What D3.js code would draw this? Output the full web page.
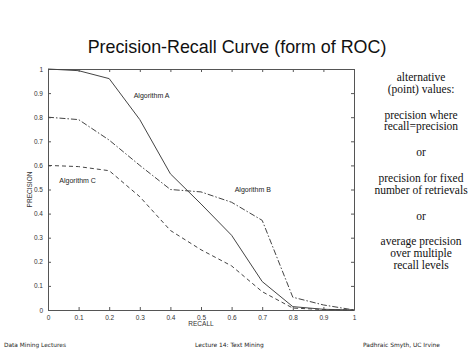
<!DOCTYPE html>
<html><head><meta charset="utf-8">
<script src="https://cdn.jsdelivr.net/npm/d3@7"></script>
<style>body{margin:0;background:#fff}svg{display:block}</style>
</head><body>
<script>
const recall = [0, 0.1, 0.2, 0.3, 0.4, 0.5, 0.6, 0.7, 0.8, 0.9, 1.0];
const algA = [1.0, 0.993, 0.96, 0.79, 0.565, 0.44, 0.31, 0.118, 0.014, 0.003, 0];
const algB = [0.8, 0.79, 0.705, 0.60, 0.50, 0.49, 0.447, 0.372, 0.053, 0.021, 0];
const algC = [0.6, 0.595, 0.578, 0.47, 0.33, 0.25, 0.183, 0.076, 0.008, 0.002, 0];
const xTicks = [0, 0.1, 0.2, 0.3, 0.4, 0.5, 0.6, 0.7, 0.8, 0.9, 1];
const yTicks = [0, 0.1, 0.2, 0.3, 0.4, 0.5, 0.6, 0.7, 0.8, 0.9, 1];
const sideParagraphs = [
  ["alternative", "(point) values:"],
  ["precision where", "recall=precision"],
  ["or"],
  ["precision for fixed", "number of retrievals"],
  ["or"],
  ["average precision", "over multiple", "recall levels"]
];
const footer = ["Data Mining Lectures", "Lecture 14: Text Mining", "Padhraic Smyth, UC Irvine"];

const W = 474, H = 355;
const svg = d3.select("body").append("svg").attr("width", W).attr("height", H);
const x = d3.scaleLinear().domain([0, 1]).range([48, 354]);
const y = d3.scaleLinear().domain([0, 1]).range([310, 69]);
const axisColor = "#555";
const tickFont = "Liberation Sans, Arial, sans-serif";

function fit(sel, width) {
  const n = sel.node();
  const fs = +sel.attr("font-size");
  const w = n.getComputedTextLength();
  if (w > 0) sel.attr("font-size", fs * width / w);
}

const title = svg.append("text").attr("x", 237).attr("y", 52.5).attr("text-anchor", "middle")
  .attr("font-family", "Liberation Sans, Arial, sans-serif").attr("font-size", 18)
  .attr("fill", "#111").text("Precision-Recall Curve (form of ROC)");
fit(title, 299);

function styleAxis(g, labels) {
  g.select(".domain").attr("stroke", axisColor);
  g.selectAll(".tick line").attr("stroke", axisColor);
  g.selectAll(".tick text").attr("fill", "#333").attr("font-family", tickFont).attr("font-size", 6.5);
  if (!labels) g.selectAll(".tick text").remove();
}
const fmt = d => d === 0 ? "0" : d === 1 ? "1" : d3.format(".1f")(d);
svg.append("g").attr("transform", `translate(0,${y(0)})`)
  .call(d3.axisBottom(x).tickValues(xTicks).tickFormat(fmt).tickSizeInner(-3).tickSizeOuter(0).tickPadding(5))
  .call(g => styleAxis(g, true));
svg.append("g").attr("transform", `translate(0,${y(1)})`)
  .call(d3.axisTop(x).tickValues(xTicks).tickSizeInner(-3).tickSizeOuter(0))
  .call(g => styleAxis(g, false));
svg.append("g").attr("transform", `translate(${x(0)},0)`)
  .call(d3.axisLeft(y).tickValues(yTicks).tickFormat(fmt).tickSizeInner(-3).tickSizeOuter(0).tickPadding(5))
  .call(g => styleAxis(g, true));
svg.append("g").attr("transform", `translate(${x(1)},0)`)
  .call(d3.axisRight(y).tickValues(yTicks).tickSizeInner(-3).tickSizeOuter(0))
  .call(g => styleAxis(g, false));

svg.append("text").attr("x", x(0.5)).attr("y", 326).attr("text-anchor", "middle")
  .attr("font-family", tickFont).attr("font-size", 6.5).attr("fill", "#333").text("RECALL");
svg.append("text").attr("transform", `translate(32,${y(0.5)}) rotate(-90)`).attr("text-anchor", "middle")
  .attr("font-family", tickFont).attr("font-size", 6.5).attr("fill", "#333").text("PRECISION");

const line = d3.line().x((d, i) => x(recall[i])).y(d => y(d));
const series = [
  {v: algA, dash: null, label: "Algorithm A", lx: 0.28, ly: 0.88},
  {v: algB, dash: "6,2,1.5,2", label: "Algorithm B", lx: 0.61, ly: 0.49},
  {v: algC, dash: "4,3", label: "Algorithm C", lx: 0.037, ly: 0.527}
];
series.forEach(s => {
  svg.append("path").attr("d", line(s.v)).attr("fill", "none").attr("stroke", "#444")
    .attr("stroke-width", 1).attr("stroke-dasharray", s.dash);
  svg.append("text").attr("x", x(s.lx)).attr("y", y(s.ly)).attr("font-family", tickFont)
    .attr("font-size", 7).attr("fill", "#222").text(s.label);
});

let sy = 81;
sideParagraphs.forEach((p, pi) => {
  if (pi > 0) sy += 14;
  p.forEach((t, li) => {
    if (li > 0) sy += 11.8;
    svg.append("text").attr("x", 421).attr("y", sy)
      .attr("font-family", "Liberation Serif, Times New Roman, serif")
      .attr("font-size", 11.5).attr("fill", "#111").attr("text-anchor", "middle").text(t);
  });
  sy += 11.8;
});

const fx = [4, 229.5, 401.5];
const fw = [62, 69, 77];
const anchors = ["start", "middle", "middle"];
footer.forEach((t, i) => {
  const ft = svg.append("text").attr("x", fx[i]).attr("y", 347).attr("text-anchor", anchors[i])
    .attr("font-family", "DejaVu Sans, Verdana, sans-serif").attr("font-size", 6.3)
    .attr("fill", "#222").text(t);
  fit(ft, fw[i]);
});
</script>
</body></html>
